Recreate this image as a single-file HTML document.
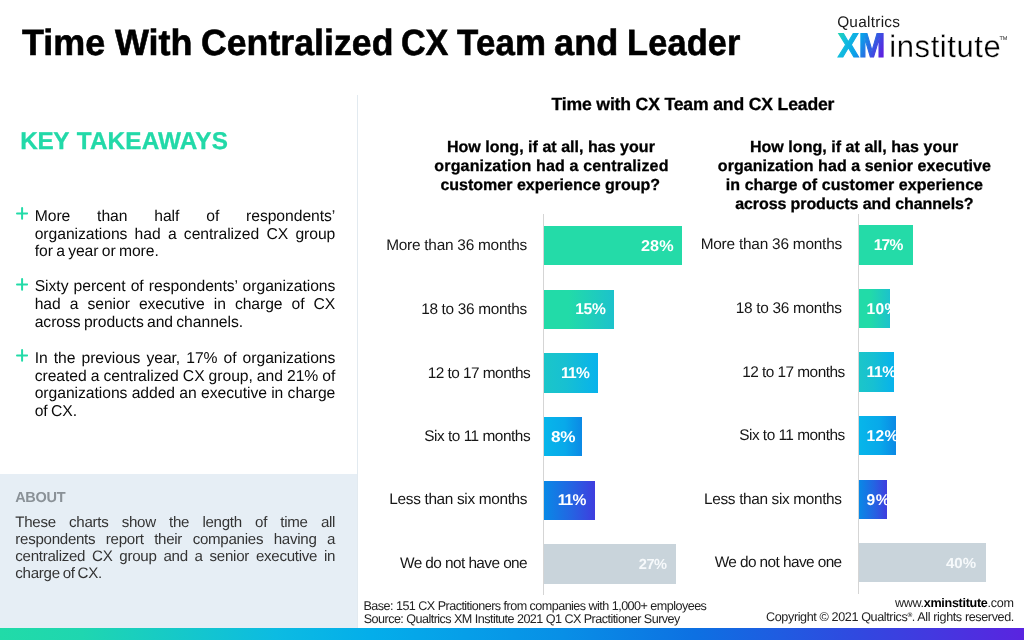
<!DOCTYPE html>
<html lang="en"><head><meta charset="utf-8"><title>Time With Centralized CX Team and Leader</title>
<style>
html,body{margin:0;padding:0;background:#fff;}
body{width:1024px;height:640px;position:relative;overflow:hidden;font-family:"Liberation Sans",sans-serif;text-rendering:geometricPrecision;}
.pg div,.pg .w{position:absolute;white-space:nowrap;}
.pg h1,.pg h2{margin:0;padding:0;font:inherit;}
.pg .bar{overflow:hidden;}
.pg .bar span{position:absolute;color:#fff;font-weight:700;white-space:nowrap;}
.pg .jl{text-align:justify;text-align-last:justify;}
.pg .jl.l{text-align:left;text-align-last:left;}
</style></head><body><div class="pg">
<div style="left:0;top:474px;width:358px;height:154px;background:#e6eef5;"></div>
<div style="left:357px;top:95px;width:1px;height:533px;background:#e2eaf0;"></div>
<div style="left:0;top:628px;width:1024px;height:12px;background:linear-gradient(90deg,#21dba8 0%,#1fd6b0 8%,#0cbbe2 27%,#04aeea 36%,#088fe6 55%,#0d70e2 68%,#3148e0 84%,#5a24e0 100%);"></div>
<h1>
<span class="w" style="left:21.87px;top:21px;font-size:36.5px;line-height:43px;font-weight:700;color:#000;letter-spacing:-0.016px;-webkit-text-stroke:0.6px #000;transform:scaleX(0.985);transform-origin:0 50%;">Time</span>
<span class="w" style="left:114.89px;top:21px;font-size:36.5px;line-height:43px;font-weight:700;color:#000;letter-spacing:-0.001px;-webkit-text-stroke:0.6px #000;transform:scaleX(0.985);transform-origin:0 50%;">With</span>
<span class="w" style="left:200.85px;top:21px;font-size:36.5px;line-height:43px;font-weight:700;color:#000;letter-spacing:0.041px;-webkit-text-stroke:0.6px #000;transform:scaleX(0.976);transform-origin:0 50%;">Centralized</span>
<span class="w" style="left:400.78px;top:21px;font-size:36.5px;line-height:43px;font-weight:700;color:#000;letter-spacing:-0.123px;-webkit-text-stroke:0.6px #000;transform:scaleX(0.937);transform-origin:0 50%;">CX</span>
<span class="w" style="left:457.35px;top:21px;font-size:36.5px;line-height:43px;font-weight:700;color:#000;letter-spacing:0.192px;-webkit-text-stroke:0.6px #000;transform:scaleX(0.955);transform-origin:0 50%;">Team</span>
<span class="w" style="left:554.13px;top:21px;font-size:36.5px;line-height:43px;font-weight:700;color:#000;letter-spacing:0.051px;-webkit-text-stroke:0.6px #000;transform:scaleX(0.99);transform-origin:0 50%;">and</span>
<span class="w" style="left:627.47px;top:21px;font-size:36.5px;line-height:43px;font-weight:700;color:#000;letter-spacing:0.191px;-webkit-text-stroke:0.6px #000;transform:scaleX(0.94);transform-origin:0 50%;">Leader</span>
</h1>
<h2>
<span class="w" style="left:20.24px;top:127px;font-size:24.3px;line-height:29px;font-weight:700;color:#22d9a8;letter-spacing:-0.324px;-webkit-text-stroke:0.3px #22d9a8;">KEY</span>
<span class="w" style="left:76.68px;top:127px;font-size:24.3px;line-height:29px;font-weight:700;color:#22d9a8;letter-spacing:0.171px;-webkit-text-stroke:0.3px #22d9a8;">TAKEAWAYS</span>
</h2>
<div style="left:837.13px;top:13px;font-size:15.4px;line-height:19px;font-weight:400;color:#1a1a1a;letter-spacing:0.269px;">Qualtrics</div>
<svg style="position:absolute;left:830px;top:28px" width="60" height="36" viewBox="0 0 60 36"><defs><linearGradient id="xg" gradientUnits="userSpaceOnUse" x1="7" y1="2" x2="54" y2="22"><stop offset="0" stop-color="#24d9a6"/><stop offset="0.22" stop-color="#12bfdc"/><stop offset="0.5" stop-color="#0aa0ea"/><stop offset="0.72" stop-color="#2b68e2"/><stop offset="1" stop-color="#5c22e0"/></linearGradient></defs><text x="7.70" y="29.3" font-family="Liberation Sans, sans-serif" font-weight="700" font-size="34.0" textLength="47.60" lengthAdjust="spacingAndGlyphs" fill="url(#xg)" stroke="url(#xg)" stroke-width="1.1" stroke-linejoin="miter">XM</text></svg>
<div style="left:889.34px;top:28px;font-size:31.0px;line-height:37px;font-weight:400;color:#000;letter-spacing:0.562px;-webkit-text-stroke:0.3px #fff;">institute</div>
<div style="left:999.50px;top:35px;font-size:5.5px;line-height:8px;font-weight:400;color:#222;">TM</div>
<svg width="12.2" height="12.8" viewBox="0 0 12.2 12.8" style="position:absolute;left:15.8px;top:207.3px"><path d="M6.1 1v10.8M1 6.4h10.2" stroke="#22dba8" stroke-width="2" stroke-linecap="round" fill="none"/></svg>
<div class="jl" style="left:34.7px;top:207px;width:300.6px;font-size:15.7px;line-height:19px;color:#0a0a0a;letter-spacing:-0.05px;word-spacing:-1.0px;">More than half of respondents’</div>
<div class="jl" style="left:34.7px;top:225px;width:300.6px;font-size:15.7px;line-height:19px;color:#0a0a0a;letter-spacing:-0.05px;word-spacing:-1.0px;">organizations had a centralized CX group</div>
<div class="jl l" style="left:34.7px;top:242px;width:300.6px;font-size:15.7px;line-height:19px;color:#0a0a0a;letter-spacing:-0.05px;word-spacing:-1.0px;">for a year or more.</div>
<svg width="12.2" height="12.8" viewBox="0 0 12.2 12.8" style="position:absolute;left:15.8px;top:277.9px"><path d="M6.1 1v10.8M1 6.4h10.2" stroke="#22dba8" stroke-width="2" stroke-linecap="round" fill="none"/></svg>
<div class="jl" style="left:34.7px;top:277px;width:300.6px;font-size:15.7px;line-height:19px;color:#0a0a0a;letter-spacing:-0.05px;word-spacing:-1.0px;">Sixty percent of respondents’ organizations</div>
<div class="jl" style="left:34.7px;top:295px;width:300.6px;font-size:15.7px;line-height:19px;color:#0a0a0a;letter-spacing:-0.05px;word-spacing:-1.0px;">had a senior executive in charge of CX</div>
<div class="jl l" style="left:34.7px;top:313px;width:300.6px;font-size:15.7px;line-height:19px;color:#0a0a0a;letter-spacing:-0.05px;word-spacing:-1.0px;">across products and channels.</div>
<svg width="12.2" height="12.8" viewBox="0 0 12.2 12.8" style="position:absolute;left:15.8px;top:349.0px"><path d="M6.1 1v10.8M1 6.4h10.2" stroke="#22dba8" stroke-width="2" stroke-linecap="round" fill="none"/></svg>
<div class="jl" style="left:34.7px;top:349px;width:300.6px;font-size:15.7px;line-height:19px;color:#0a0a0a;letter-spacing:-0.05px;word-spacing:-1.0px;">In the previous year, 17% of organizations</div>
<div class="jl" style="left:34.7px;top:367px;width:300.6px;font-size:15.7px;line-height:19px;color:#0a0a0a;letter-spacing:-0.05px;word-spacing:-1.0px;">created a centralized CX group, and 21% of</div>
<div class="jl" style="left:34.7px;top:384px;width:300.6px;font-size:15.7px;line-height:19px;color:#0a0a0a;letter-spacing:-0.05px;word-spacing:-1.0px;">organizations added an executive in charge</div>
<div class="jl l" style="left:34.7px;top:402px;width:300.6px;font-size:15.7px;line-height:19px;color:#0a0a0a;letter-spacing:-0.05px;word-spacing:-1.0px;">of CX.</div>
<div style="left:15.16px;top:489px;font-size:14.5px;line-height:18px;font-weight:700;color:#8a9197;letter-spacing:-0.258px;">ABOUT</div>
<div class="jl" style="left:15.3px;top:513px;width:319.9px;font-size:15.1px;line-height:19px;color:#333;letter-spacing:-0.28px;word-spacing:-1.0px;">These charts show the length of time all</div>
<div class="jl" style="left:15.3px;top:530px;width:319.9px;font-size:15.1px;line-height:19px;color:#333;letter-spacing:-0.28px;word-spacing:-1.0px;">respondents report their companies having a</div>
<div class="jl" style="left:15.3px;top:547px;width:319.9px;font-size:15.1px;line-height:19px;color:#333;letter-spacing:-0.28px;word-spacing:-1.0px;">centralized CX group and a senior executive in</div>
<div class="jl l" style="left:15.3px;top:564px;width:319.9px;font-size:15.1px;line-height:19px;color:#333;letter-spacing:-0.28px;word-spacing:-1.0px;">charge of CX.</div>
<div style="left:551.54px;top:93px;font-size:17.6px;line-height:22px;font-weight:700;color:#000;letter-spacing:-0.162px;-webkit-text-stroke:0.3px #000;">Time with CX Team and CX Leader</div>
<div style="left:446.95px;top:138px;font-size:16.0px;line-height:19px;font-weight:700;color:#000;letter-spacing:0.028px;-webkit-text-stroke:0.3px #000;">How long, if at all, has your</div>
<div style="left:434.31px;top:157px;font-size:16.0px;line-height:19px;font-weight:700;color:#000;letter-spacing:0.165px;-webkit-text-stroke:0.3px #000;">organization had a centralized</div>
<div style="left:440.42px;top:176px;font-size:16.0px;line-height:19px;font-weight:700;color:#000;letter-spacing:0.003px;-webkit-text-stroke:0.3px #000;">customer experience group?</div>
<div style="left:749.95px;top:138px;font-size:16.0px;line-height:19px;font-weight:700;color:#000;letter-spacing:0.043px;-webkit-text-stroke:0.3px #000;">How long, if at all, has your</div>
<div style="left:717.81px;top:157px;font-size:16.0px;line-height:19px;font-weight:700;color:#000;letter-spacing:0.057px;-webkit-text-stroke:0.3px #000;">organization had a senior executive</div>
<div style="left:725.81px;top:176px;font-size:16.0px;line-height:19px;font-weight:700;color:#000;letter-spacing:0.065px;-webkit-text-stroke:0.3px #000;">in charge of customer experience</div>
<div style="left:735.23px;top:195px;font-size:16.0px;line-height:19px;font-weight:700;color:#000;letter-spacing:-0.093px;-webkit-text-stroke:0.3px #000;">across products and channels?</div>
<div style="left:386.14px;top:236px;font-size:15.4px;line-height:19px;font-weight:400;color:#161616;letter-spacing:-0.239px;">More than 36 months</div>
<div style="left:700.67px;top:235px;font-size:15.4px;line-height:19px;font-weight:400;color:#161616;letter-spacing:-0.218px;">More than 36 months</div>
<div style="left:421.13px;top:300px;font-size:15.4px;line-height:19px;font-weight:400;color:#161616;letter-spacing:-0.306px;">18 to 36 months</div>
<div style="left:735.65px;top:299px;font-size:15.4px;line-height:19px;font-weight:400;color:#161616;letter-spacing:-0.289px;">18 to 36 months</div>
<div style="left:427.65px;top:364px;font-size:15.4px;line-height:19px;font-weight:400;color:#161616;letter-spacing:-0.527px;">12 to 17 months</div>
<div style="left:742.37px;top:363px;font-size:15.4px;line-height:19px;font-weight:400;color:#161616;letter-spacing:-0.546px;">12 to 17 months</div>
<div style="left:424.22px;top:427px;font-size:15.4px;line-height:19px;font-weight:400;color:#161616;letter-spacing:-0.475px;">Six to 11 months</div>
<div style="left:739.22px;top:426px;font-size:15.4px;line-height:19px;font-weight:400;color:#161616;letter-spacing:-0.504px;">Six to 11 months</div>
<div style="left:389.37px;top:490px;font-size:15.4px;line-height:19px;font-weight:400;color:#161616;letter-spacing:-0.337px;">Less than six months</div>
<div style="left:704.11px;top:490px;font-size:15.4px;line-height:19px;font-weight:400;color:#161616;letter-spacing:-0.354px;">Less than six months</div>
<div style="left:400.02px;top:554px;font-size:15.4px;line-height:19px;font-weight:400;color:#161616;letter-spacing:-0.579px;">We do not have one</div>
<div style="left:714.66px;top:553px;font-size:15.4px;line-height:19px;font-weight:400;color:#161616;letter-spacing:-0.586px;">We do not have one</div>
<div style="left:543px;top:214.4px;width:1px;height:380.4px;background:#d5d5d5;"></div>
<div style="left:858px;top:213.6px;width:1px;height:380.8px;background:#d5d5d5;"></div>
<div class="bar" style="left:544px;top:226.10px;width:138.30px;height:39.4px;background:linear-gradient(90deg,#24dba8,#24dba8);"><span style="left:96.99px;top:10.90px;font-size:15.6px;line-height:19px;letter-spacing:0.044px;transform:scaleX(1.04);transform-origin:0 50%;">28%</span></div>
<div class="bar" style="left:544px;top:289.76px;width:70.40px;height:39.4px;background:linear-gradient(90deg,#22dba8 0%,#22dba8 35%,#1cc2cc 100%);"><span style="left:31.13px;top:10.24px;font-size:15.6px;line-height:19px;letter-spacing:-0.258px;">15%</span></div>
<div class="bar" style="left:544px;top:353.42px;width:54.30px;height:39.4px;background:linear-gradient(90deg,#1bc6c9 0%,#17c0d2 40%,#07b2ec 100%);"><span style="left:17.09px;top:10.58px;font-size:15.6px;line-height:19px;letter-spacing:-0.774px;">11%</span></div>
<div class="bar" style="left:544px;top:417.08px;width:38.30px;height:39.4px;background:linear-gradient(90deg,#07b6ea 0%,#08a9ea 55%,#0b89e5 100%);"><span style="left:7.25px;top:10.92px;font-size:15.6px;line-height:19px;letter-spacing:-0.227px;transform:scaleX(1.1);transform-origin:0 50%;">8%</span></div>
<div class="bar" style="left:544px;top:480.74px;width:51.20px;height:39.4px;background:linear-gradient(90deg,#0889e6 0%,#2563e2 55%,#3f3ddf 100%);"><span style="left:13.68px;top:10.26px;font-size:15.6px;line-height:19px;letter-spacing:-0.871px;">11%</span></div>
<div class="bar" style="left:544px;top:544.40px;width:132.10px;height:39.4px;background:linear-gradient(90deg,#c9d4db,#c9d4db);"><span style="left:94.68px;top:11.60px;font-size:14.6px;line-height:18px;letter-spacing:-0.411px;color:#f6f9fb;">27%</span></div>
<div class="bar" style="left:859px;top:225.30px;width:53.50px;height:39.3px;background:linear-gradient(90deg,#24dba8,#24dba8);"><span style="left:14.65px;top:10.70px;font-size:15.6px;line-height:19px;letter-spacing:-0.699px;">17%</span></div>
<div class="bar" style="left:859px;top:288.88px;width:30.80px;height:39.3px;background:linear-gradient(90deg,#22dba8 0%,#22dba8 35%,#1cc2cc 100%);"><span style="left:7.60px;top:11.12px;font-size:15.6px;line-height:19px;letter-spacing:0.300px;">10%</span></div>
<div class="bar" style="left:859px;top:352.46px;width:34.90px;height:39.3px;background:linear-gradient(90deg,#1bc6c9 0%,#17c0d2 40%,#07b2ec 100%);"><span style="left:7.60px;top:10.54px;font-size:15.6px;line-height:19px;letter-spacing:-0.380px;">11%</span></div>
<div class="bar" style="left:859px;top:416.04px;width:36.80px;height:39.3px;background:linear-gradient(90deg,#07b6ea 0%,#08a9ea 55%,#0b89e5 100%);"><span style="left:7.60px;top:10.96px;font-size:15.6px;line-height:19px;letter-spacing:0.300px;">12%</span></div>
<div class="bar" style="left:859px;top:479.62px;width:28.20px;height:39.3px;background:linear-gradient(90deg,#0889e6 0%,#2563e2 55%,#3f3ddf 100%);"><span style="left:7.60px;top:11.38px;font-size:15.6px;line-height:19px;letter-spacing:0.500px;">9%</span></div>
<div class="bar" style="left:859px;top:543.20px;width:127.10px;height:39.3px;background:linear-gradient(90deg,#c9d4db,#c9d4db);"><span style="left:87.46px;top:11.80px;font-size:14.6px;line-height:18px;letter-spacing:0.006px;color:#f6f9fb;transform:scaleX(1.03);transform-origin:0 50%;">40%</span></div>
<div style="left:363.49px;top:598px;font-size:12.6px;line-height:16px;font-weight:400;color:#222;letter-spacing:-0.541px;">Base: 151 CX Practitioners from companies with 1,000+ employees</div>
<div style="left:363.71px;top:611px;font-size:12.6px;line-height:16px;font-weight:400;color:#222;letter-spacing:-0.544px;">Source: Qualtrics XM Institute 2021 Q1 CX Practitioner Survey</div>
<div style="left:894.89px;top:595px;font-size:12.6px;line-height:16px;font-weight:400;color:#222;letter-spacing:-0.307px;">www.<b style="color:#000">xminstitute</b>.com</div>
<div style="left:766.02px;top:609px;font-size:12.6px;line-height:16px;font-weight:400;color:#222;letter-spacing:-0.385px;">Copyright © 2021 Qualtrics<span style="font-size:6.5px;font-weight:700;position:relative;top:-4.5px">®</span>. All rights reserved.</div>
</div></body></html>
